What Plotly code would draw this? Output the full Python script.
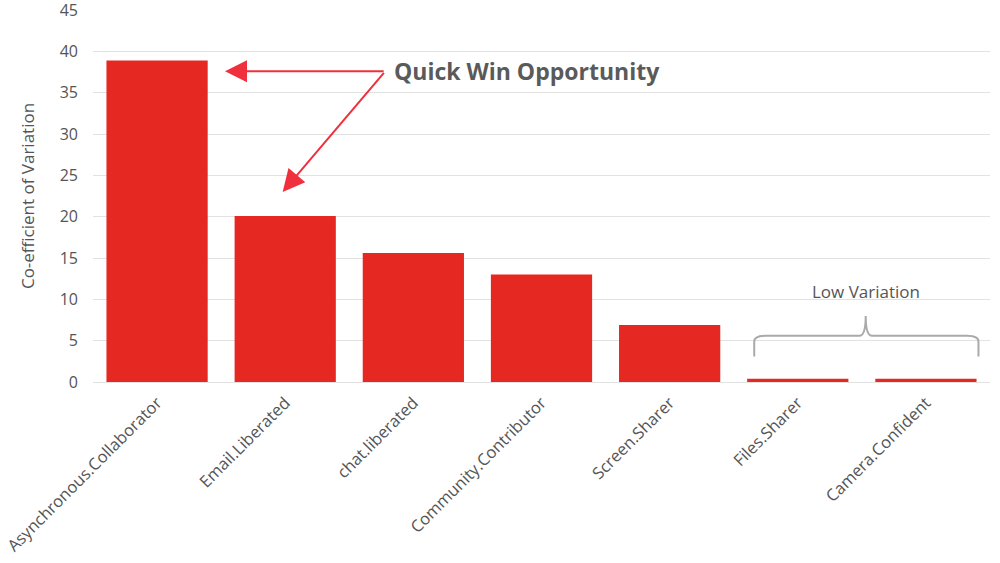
import plotly.graph_objects as go

categories = ["Asynchronous.Collaborator", "Email.Liberated", "chat.liberated",
              "Community.Contributor", "Screen.Sharer", "Files.Sharer", "Camera.Confident"]
cv_values = [38.9, 20.1, 15.6, 13.0, 6.9, 0.4, 0.4]
y_ticks = [0, 5, 10, 15, 20, 25, 30, 35, 40, 45]

positions = list(range(len(categories)))

fig = go.Figure()
fig.add_trace(go.Bar(
    x=positions, y=cv_values,
    marker=dict(color="#e52822", line=dict(width=0)),
    hoverinfo="y",
))

red = "#f0303c"
# arrows from the callout text
fig.add_annotation(x=0.53, y=37.6, ax=1.78, ay=37.6, xref="x", yref="y", axref="x", ayref="y",
                   text="", showarrow=True, arrowhead=2, arrowsize=2.2, arrowwidth=2, arrowcolor=red)
fig.add_annotation(x=0.98, y=23.0, ax=1.78, ay=37.6, xref="x", yref="y", axref="x", ayref="y",
                   text="", showarrow=True, arrowhead=2, arrowsize=2.2, arrowwidth=2, arrowcolor=red)
fig.add_annotation(x=1.83, y=37.6, xref="x", yref="y", xanchor="left", yanchor="middle",
                   text="<b>Quick Win Opportunity</b>", showarrow=False,
                   font=dict(family="Open Sans", size=23, color="#5a5a5a"))

# brace over the low variation bars
brace = ("M 4.66,3.1 L 4.66,4.9 Q 4.66,5.6 4.75,5.6 L 5.48,5.6 Q 5.53,5.6 5.53,8.0 "
         "Q 5.53,5.6 5.58,5.6 L 6.32,5.6 Q 6.41,5.6 6.41,4.9 L 6.41,3.1")
fig.add_shape(type="path", path=brace, xref="x", yref="y",
              line=dict(color="#aaaaaa", width=2))
fig.add_annotation(x=5.53, y=10.9, xref="x", yref="y", text="Low Variation", showarrow=False,
                   font=dict(family="Open Sans", size=17, color="#555555"))

fig.update_layout(
    width=1000, height=563,
    margin=dict(l=93, r=10, t=10, b=181),
    plot_bgcolor="white", paper_bgcolor="white",
    bargap=0.21,
    showlegend=False,
    font=dict(family="Open Sans", color="#555555"),
)
fig.update_xaxes(
    tickmode="array", tickvals=positions, ticktext=categories,
    tickangle=-45, range=[-0.5, 6.5], automargin=False, ticklabeloverflow="allow",
    ticklabelstandoff=7,
    tickfont=dict(size=16.5, color="#555555"),
    showgrid=False, showline=False, zeroline=False, ticks="",
)
fig.update_yaxes(
    range=[0, 45.02], tickvals=y_ticks, automargin=False, ticklabeloverflow="allow",
    ticklabelstandoff=14,
    tickfont=dict(size=16, color="#555555"),
    title=dict(text="Co-efficient of Variation", font=dict(size=17, color="#555555"), standoff=20),
    showgrid=True, gridcolor="#e2e2e2", gridwidth=1,
    zeroline=True, zerolinecolor="#e2e2e2", zerolinewidth=1,
)

# drop the default body margin so the figure sits at the page corner
fig.write_html("out.html", config={"displayModeBar": False},
               post_script="document.body.style.margin='0';")
